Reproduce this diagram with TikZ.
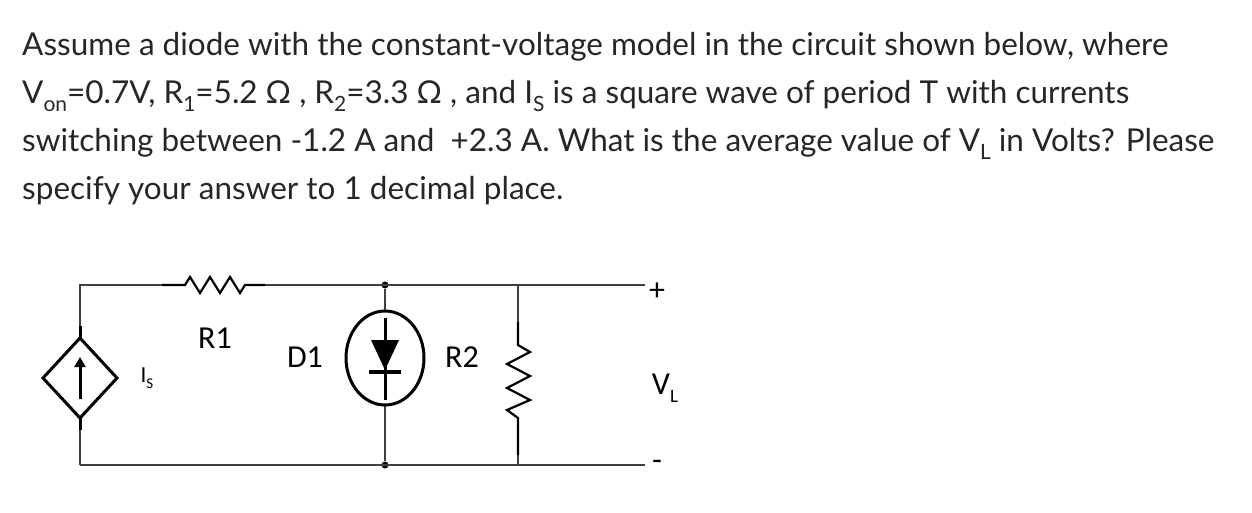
\documentclass[tikz,border=0pt]{standalone}
\usepackage{fontspec}
\setmainfont{Lato}
\newfontfamily\calfont{Carlito}
\usetikzlibrary{arrows.meta}
\newcommand{\sbs}[1]{\raisebox{-0.28em}{\fontsize{21}{21}\selectfont #1}}
\begin{document}
\begin{tikzpicture}[x=1pt,y=-1pt,
  txt/.style={anchor=base west,inner sep=0pt,font=\fontsize{31.5}{34}\selectfont,text=black!85},
  lbl/.style={inner sep=0pt,font=\calfont\fontsize{32}{32}\selectfont},
  wire/.style={line width=1.3pt,black!75},
  comp/.style={line width=3pt,black,line join=miter},
  dot/.style={circle,fill=black,inner sep=0pt,minimum size=7pt}]
\useasboundingbox (0,0) rectangle (1252,512);
\node[txt] (l1) at (22,55) {Assume a diode with the constant-voltage model in the circuit shown below, where};
\node[txt] (l2) at (22,103) {V\sbs{on}=0.7V, R\sbs{1}=5.2 Ω , R\sbs{2}=3.3 Ω , and I\sbs{S} is a square wave of period T with currents};
\node[txt] (l3) at (22,151) {switching between -1.2 A and \ +2.3 A. What is the average value of V\sbs{L} in Volts? Please};
\node[txt] (l4) at (22,199) {specify your answer to 1 decimal place.};
% coordinates
\coordinate (tl) at (80,285); \coordinate (bl) at (80,465);
\coordinate (tr) at (645,285); \coordinate (br) at (645,465);
\node[dot] (dt) at (385,285) {}; \node[dot] (db) at (385,465) {};
\coordinate (r2t) at (518,285); \coordinate (r2b) at (518,465);
% wires
\draw[wire] (bl) -- (tl) -- (162,285);
\draw[wire] (265,285) -- (tr);
\draw[wire] (bl) -- (br);
\draw[wire] (dt) -- (db);
\draw[wire] (r2t) -- (r2b);
% source
\draw[comp,fill=white] (43,378) -- (80,338) -- (117,378) -- (80,418) -- cycle;
\draw[comp] (80,338) -- (80,326); \draw[comp] (80,418) -- (80,430);
\draw[comp,-{Triangle[length=10pt,width=11pt]}] (80,399) -- (80,357);
\node[lbl,font=\calfont\fontsize{23}{23}\selectfont] (is) at (147,378) {I\raisebox{-0.25em}{\fontsize{15}{15}\selectfont S}};
% R1
\fill[white] (162,280) rectangle (265,290);
\draw[comp,line width=2.2pt] (162,285) -- (185,285) -- (190,277) -- (200,293) -- (210,277) -- (220,293) -- (230,277) -- (240,293) -- (245,285) -- (265,285);
\node[lbl] (r1) at (215,338) {R1};
% D1
\draw[comp,fill=white] (385,358) ellipse [x radius=39,y radius=47];
\draw[comp] (385,318) -- (385,400);
\fill (371,340) -- (399,340) -- (385,370) -- cycle;
\draw[comp,line width=4pt] (369,372) -- (401,372);
\node[lbl] (d1) at (305,357) {D1};
% R2
\fill[white] (513,322) rectangle (523,455);
\draw[comp,line width=2.2pt] (518,322) -- (518,345) -- (530,352) -- (507,364) -- (530,376) -- (507,388) -- (530,400) -- (507,410) -- (518,418) -- (518,455);
\node[lbl] (r2) at (462,357) {R2};
\node[lbl] (plus) at (657,292) {+};
\node[lbl] (minus) at (657,465) {-};
\node[lbl] (vl) at (665,388) {V\raisebox{-0.25em}{\fontsize{19}{19}\selectfont L}};
\end{tikzpicture}
\end{document}
